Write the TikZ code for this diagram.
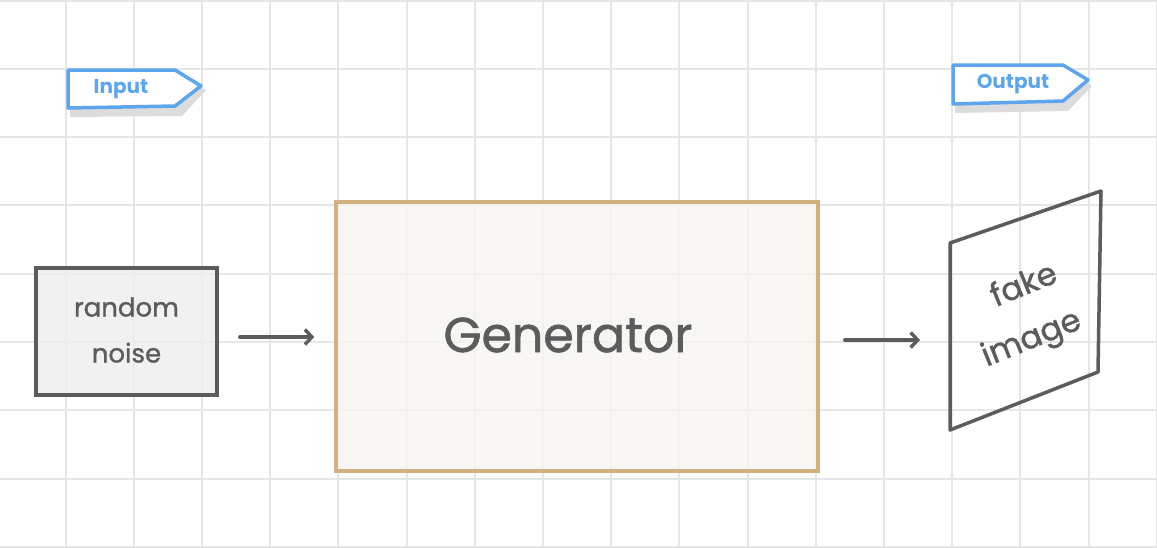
\documentclass[tikz,border=0pt]{standalone}
\usepackage{fontspec}
\setmainfont{Poppins}
\newfontfamily\hand{Poppins}[FakeBold=1.2]
\usetikzlibrary{arrows.meta}
\definecolor{gridc}{HTML}{E6E6E6}
\definecolor{ink}{HTML}{5C5C5C}
\definecolor{tagblue}{HTML}{5DA6EE}
\definecolor{shadowc}{HTML}{DCDCDC}
\definecolor{genfill}{HTML}{F8F5EF}
\definecolor{genline}{HTML}{D2B180}
\definecolor{noisefill}{HTML}{EEEEEE}
\tikzset{
  gridline/.style={draw=gridc, line width=2pt},
  conn/.style={draw=ink, line width=3.4pt, line cap=round, -{Straight Barb[length=7pt,width=15pt,line width=3.4pt]}},
  tagshape/.style={draw=tagblue, line width=3.5pt, fill=white, line join=round},
  tagshadow/.style={fill=shadowc},
  tagtext/.style={text=tagblue, font=\fontsize{20}{20}\selectfont\bfseries, inner sep=0pt},
  handtext/.style={text=ink, align=center, inner sep=0pt},
}
\begin{document}
\begin{tikzpicture}[x=1pt,y=-1pt]
\useasboundingbox (0,0) rectangle (1157,547);
\fill[white] (0,0) rectangle (1157,547);
% grid
\foreach \i in {0,...,16} {
  \pgfmathsetmacro{\xx}{65.5+68.2*\i}
  \draw[gridline] (\xx,0) -- (\xx,547);
}
\foreach \j in {0,...,8} {
  \pgfmathsetmacro{\yy}{0.5+68.3*\j}
  \draw[gridline] (0,\yy) -- (1157,\yy);
}
% tags
\fill[tagshadow] (70,76) -- (178,74) -- (206,90) -- (182,116) -- (70,117) -- cycle;
\draw[tagshape] (68,70) -- (175,70) -- (201,86) -- (175,106) -- (68,108) -- cycle;
\node[tagtext] (intag) at (121,89) {Input};
\fill[tagshadow] (955,71) -- (1066,70) -- (1092,86) -- (1068,111) -- (955,113) -- cycle;
\draw[tagshape] (953,65) -- (1063,65) -- (1088,80) -- (1063,101) -- (953,104) -- cycle;
\node[tagtext] (outtag) at (1013,84) {Output};
% random noise
\node[draw=ink, line width=3.5pt, fill=noisefill, fill opacity=0.8, text opacity=1,
      minimum width=181pt, minimum height=127pt, inner sep=0pt] (noise) at (126.5,331.5) {};
\node[handtext, font=\hand\fontsize{26}{46}\selectfont] (noisetext) at (126.5,330) {random\\noise};
% generator
\node[draw=genline, line width=3.5pt, fill=genfill, fill opacity=0.75, text opacity=1,
      minimum width=482pt, minimum height=269pt, inner sep=0pt] (gen) at (577,336.5) {};
\node[handtext, font=\hand\fontsize{49}{49}\selectfont] (gentext) at (568,335) {Generator};
% fake image
\draw[draw=ink, line width=3.5pt, line join=round] (950,243) -- (1101,191) -- (1098,372) -- (950,430) -- cycle;
\coordinate (imgleft) at (950,340);
\node[handtext, font=\hand\fontsize{32}{32}\selectfont, rotate=22] (faketext) at (1023,283) {fake};
\node[handtext, font=\hand\fontsize{32}{32}\selectfont, rotate=22] (imagetext) at (1032,340) {image};
% connectors
\draw[conn, shorten <=21pt, shorten >=20pt] (noise.east |- 0,337) -- (gen.west |- 0,337);
\draw[conn, shorten <=25pt, shorten >=30pt] (gen.east |- 0,340) -- (imgleft);
\end{tikzpicture}
\end{document}
